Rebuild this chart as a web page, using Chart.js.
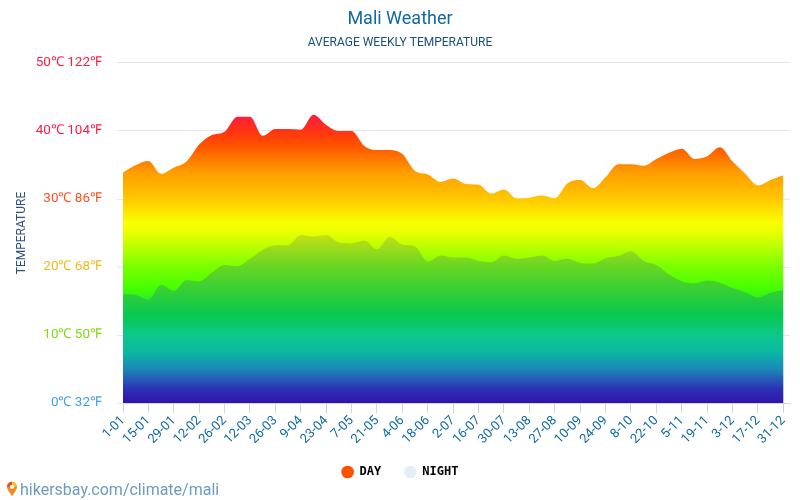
<!DOCTYPE html>
<html>
<head>
<meta charset="utf-8">
<title>Mali Weather</title>
<script src="https://cdn.jsdelivr.net/npm/chart.js@4/dist/chart.umd.min.js"></script>
<style>
  html, body { margin: 0; padding: 0; background: #fff; }
  #wrap { position: relative; width: 800px; height: 500px; overflow: hidden; }
  #source { position: absolute; left: 20px; top: 480px; font: 16px Roboto, sans-serif; color: #6a9cc0; line-height: 19px; white-space: nowrap; }
  #pin { position: absolute; left: 6px; top: 481px; }
</style>
</head>
<body>
<div id="wrap">
  <canvas id="chart" width="800" height="500"></canvas>
  <svg id="pin" width="12" height="16" viewBox="0 0 12 16">
    <path d="M6 15.5C4.5 12 1 9.5 1 5.8a5 5 0 0 1 10 0C11 9.5 7.5 12 6 15.5z" fill="#f28a1e"/>
    <path d="M1 5.8a5 5 0 0 1 5-5v3a2 2 0 0 0-2 2z" fill="#e8483a"/>
    <path d="M6 .8a5 5 0 0 1 5 5H8a2 2 0 0 0-2-2z" fill="#f7c22e"/>
    <circle cx="6" cy="5.8" r="2.1" fill="#fff"/>
  </svg>
  <div id="source">hikersbay.com/climate/mali</div>
</div>
<script>
/* ---------- DATA ---------- */
const tickLabels = ['1-01','15-01','29-01','12-02','26-02','12-03','26-03','9-04','23-04','7-05','21-05','4-06','18-06','2-07','16-07','30-07','13-08','27-08','10-09','24-09','8-10','22-10','5-11','19-11','3-12','17-12','31-12'];

const dayTemps = [33.9,35.0,35.6,33.7,34.6,35.5,38.0,39.4,39.9,42.1,42.1,39.3,40.3,40.3,40.2,42.4,40.9,40.0,40.0,37.8,37.2,37.2,36.6,34.1,33.6,32.5,33.0,32.2,32.1,30.8,31.4,30.1,30.2,30.5,30.1,32.3,32.8,31.6,33.2,35.1,35.1,34.9,35.9,36.8,37.4,35.9,36.3,37.6,35.5,33.7,32.0,32.8,33.5];

const nightTemps = [16.0,15.9,15.2,17.4,16.5,18.1,17.9,19.2,20.3,20.1,21.2,22.5,23.2,23.2,24.7,24.5,24.7,23.6,23.5,23.9,22.6,24.4,23.3,23.0,20.8,21.7,21.4,21.4,20.9,20.7,21.7,21.2,21.4,21.7,20.9,21.2,20.6,20.5,21.3,21.6,22.3,20.9,20.3,18.9,17.9,17.6,18.0,17.7,16.9,16.3,15.5,16.2,16.6];

const yTickLabels = ['0℃ 32℉','10℃ 50℉','20℃ 68℉','30℃ 86℉','40℃ 104℉','50℃ 122℉'];
const yTickColors = ['#3fa0e8','#7edb10','#f5b820','#ff5020','#ff1a44','#ff1a44'];

const seriesNames = ['DAY','NIGHT'];
const legendColors = ['#ff5000','#e6edf5'];

/* gradient stops: [temperature, colour] */
const dayStops = [[0,'#3014a8'],[2,'#2c30b4'],[5,'#1c88b8'],[7.5,'#0cb8a4'],[10,'#0cc88a'],[13,'#0cd84c'],[17,'#48ff00'],[20,'#78ff00'],[25,'#e8ff00'],[26.5,'#f8ff00'],[30,'#ffc800'],[34,'#ff9c00'],[38,'#ff5000'],[40,'#ff3414'],[42.5,'#ff1a44']];
const nightStops = [[0,'#3014a8'],[2,'#2c30b4'],[5,'#1c88b8'],[7.5,'#0cb8a4'],[10,'#0cc88a'],[13,'#08c850'],[16,'#2ece38'],[20,'#66d622'],[25,'#c8e014']];

/* ---------- GRADIENTS ---------- */
function tempGradient(chart, stops) {
  const y = chart.scales.y;
  if (!y || !chart.chartArea) return '#999';
  const bottom = y.getPixelForValue(0);
  const top = y.getPixelForValue(50);
  const grad = chart.ctx.createLinearGradient(0, bottom, 0, top);
  stops.forEach(s => grad.addColorStop(s[0] / 50, s[1]));
  return grad;
}

const toPoints = arr => arr.map((v, i) => ({ x: i, y: v }));

/* ---------- CHART ---------- */
new Chart(document.getElementById('chart'), {
  type: 'line',
  data: {
    datasets: [
      {
        label: seriesNames[0],
        data: toPoints(dayTemps),
        order: 2,
        fill: 'origin',
        borderWidth: 0,
        pointRadius: 0,
        cubicInterpolationMode: 'monotone',
        backgroundColor: ctx => tempGradient(ctx.chart, dayStops)
      },
      {
        label: seriesNames[1],
        data: toPoints(nightTemps),
        order: 1,
        fill: 'origin',
        borderWidth: 0,
        pointRadius: 0,
        cubicInterpolationMode: 'monotone',
        backgroundColor: ctx => tempGradient(ctx.chart, nightStops)
      }
    ]
  },
  options: {
    responsive: false,
    animation: false,
    layout: { padding: { top: 0, right: 10, bottom: 12, left: 10 } },
    plugins: {
      tooltip: { enabled: false },
      title: {
        display: true,
        text: 'Mali Weather',
        color: '#0f6aa3',
        font: { family: 'Roboto', size: 18, weight: 'normal' },
        padding: { top: 9, bottom: 5 }
      },
      subtitle: {
        display: true,
        text: 'AVERAGE WEEKLY TEMPERATURE',
        color: '#1a4f80',
        font: { family: 'Roboto', size: 12, weight: 'normal' },
        padding: { top: 0, bottom: 13 }
      },
      legend: {
        position: 'bottom',
        labels: {
          usePointStyle: true,
          boxWidth: 12,
          boxHeight: 9,
          padding: 23,
          color: '#333333',
          font: { family: 'DejaVu Sans Mono', size: 12, weight: 'bold' },
          generateLabels: () => seriesNames.map((name, i) => ({
            text: name,
            fillStyle: legendColors[i],
            strokeStyle: legendColors[i],
            lineWidth: 0,
            pointStyle: 'circle',
            datasetIndex: i
          }))
        }
      }
    },
    scales: {
      x: {
        type: 'linear',
        min: 0,
        max: 52.52,
        afterFit: scale => { scale.height = 40; scale.paddingLeft = 0; scale.paddingRight = 0; },
        border: { color: '#ccd6eb' },
        grid: { drawOnChartArea: false, color: '#ccd6eb', tickLength: 10 },
        ticks: {
          stepSize: 2,
          autoSkip: false,
          includeBounds: false,
          minRotation: 45,
          maxRotation: 45,
          padding: 0,
          color: '#0f6aa3',
          font: { family: 'Roboto', size: 13 },
          callback: v => tickLabels[v / 2]
        }
      },
      y: {
        min: 0,
        max: 50,
        afterFit: scale => { scale.width = 113; },
        border: { display: false },
        grid: { color: '#e6e6e6', tickLength: 6 },
        title: {
          display: true,
          text: 'TEMPERATURE',
          color: '#33507c',
          font: { family: 'Roboto', size: 12 },
          padding: { top: 5, bottom: 0 }
        },
        ticks: {
          stepSize: 10,
          padding: 15,
          font: { family: 'Roboto', size: 13.5 },
          color: c => yTickColors[c.index],
          callback: (v, i) => yTickLabels[i]
        }
      }
    }
  }
});
</script>
</body>
</html>
